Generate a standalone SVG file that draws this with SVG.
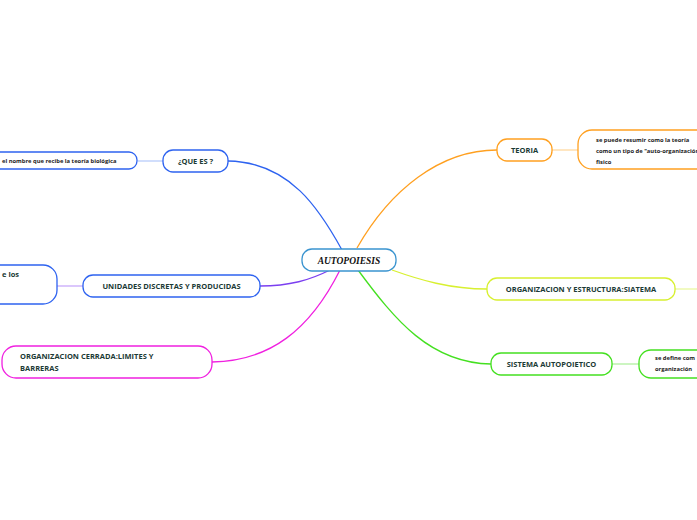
<svg xmlns="http://www.w3.org/2000/svg" width="697" height="520" viewBox="0 0 697 520">
<style>
.n{fill:#fff;stroke-width:1.3}
.t{font-family:"Open Sans","Noto Sans",sans-serif;font-size:7.5px;font-weight:bold;fill:#1b3a35}
.s{font-family:"Open Sans","Noto Sans",sans-serif;font-size:5.8px;font-weight:bold;fill:#222}
.c{fill:none;stroke-width:1.3}
</style>
<rect width="697" height="520" fill="#fff"/>
<g id="connectors">
<path class="c" stroke="#2e63f0" d="M342 250 C320 210 290 162 228 161"/>
<path class="c" stroke="#b9cdfa" d="M163 161 H138"/>
<path class="c" stroke="#7b3ff0" d="M330 270 C310 280 290 286 260 286"/>
<path class="c" stroke="#c7a9fa" d="M83 286 H57"/>
<path class="c" stroke="#f020e0" d="M340 270 C310 330 270 361 212 362"/>
<path class="c" stroke="#ffa020" d="M357 248 C390 190 440 150 497 150"/>
<path class="c" stroke="#ffd9a0" d="M552 150 H578"/>
<path class="c" stroke="#d8f030" d="M392 270 C420 280 450 289 487 289"/>
<path class="c" stroke="#eaf7a0" d="M675 289 H697"/>
<path class="c" stroke="#44e020" d="M358 270 C395 320 430 363 491 364"/>
<path class="c" stroke="#b0f0a0" d="M612 364 H639"/>
</g>
<g id="root"><rect class="n" x="302" y="249" width="94" height="22" rx="10" stroke="#3a94d0"/>
<text x="349" y="263.5" text-anchor="middle" font-family="Liberation Serif,serif" font-style="italic" font-weight="bold" font-size="9.5" fill="#111">AUTOPOIESIS</text></g>
<g id="quees"><rect class="n" x="163" y="150" width="65" height="22" rx="10" stroke="#2e63f0"/><text class="t" x="195.5" y="163.5" text-anchor="middle">¿QUE ES ?</text></g>
<g id="quees-d"><rect class="n" x="-20" y="152" width="157" height="17" rx="8" stroke="#2e63f0"/><text class="s" x="2" y="163">el nombre que recibe la teoría biológica</text></g>
<g id="unid"><rect class="n" x="83" y="275" width="177" height="22" rx="10" stroke="#2e63f0"/><text class="t" x="171.5" y="288.5" text-anchor="middle">UNIDADES DISCRETAS Y  PRODUCIDAS</text></g>
<g id="unid-d"><rect class="n" x="-40" y="265" width="97" height="39" rx="14" stroke="#2e63f0"/><text class="t" x="2" y="277" font-weight="normal">e los</text></g>
<g id="org"><rect class="n" x="2" y="346" width="210" height="32" rx="14" stroke="#f020e0"/><text class="t" x="20" y="359">ORGANIZACION CERRADA:LIMITES Y</text><text class="t" x="20" y="371">BARRERAS</text></g>
<g id="teoria"><rect class="n" x="497" y="139" width="55" height="22" rx="10" stroke="#ffa020"/><text class="t" x="524.5" y="152.5" text-anchor="middle">TEORIA</text></g>
<g id="teoria-d"><rect class="n" x="578" y="130" width="140" height="39" rx="14" stroke="#ffa020"/><text class="s" x="596" y="142">se puede resumir como la teoría</text><text class="s" x="596" y="153">como un tipo de "auto-organización</text><text class="s" x="596" y="164">fisico</text></g>
<g id="estr"><rect class="n" x="487" y="278" width="188" height="22" rx="10" stroke="#d8f030"/><text class="t" x="581" y="291.5" text-anchor="middle">ORGANIZACION Y ESTRUCTURA:SIATEMA</text></g>
<g id="sist"><rect class="n" x="491" y="353" width="121" height="22" rx="10" stroke="#44e020"/><text class="t" x="551.5" y="366.5" text-anchor="middle">SISTEMA AUTOPOIETICO</text></g>
<g id="sist-d"><rect class="n" x="639" y="350" width="90" height="28" rx="12" stroke="#44e020"/><text class="s" x="655" y="360">se define com</text><text class="s" x="655" y="371">organización</text></g>
</svg>
